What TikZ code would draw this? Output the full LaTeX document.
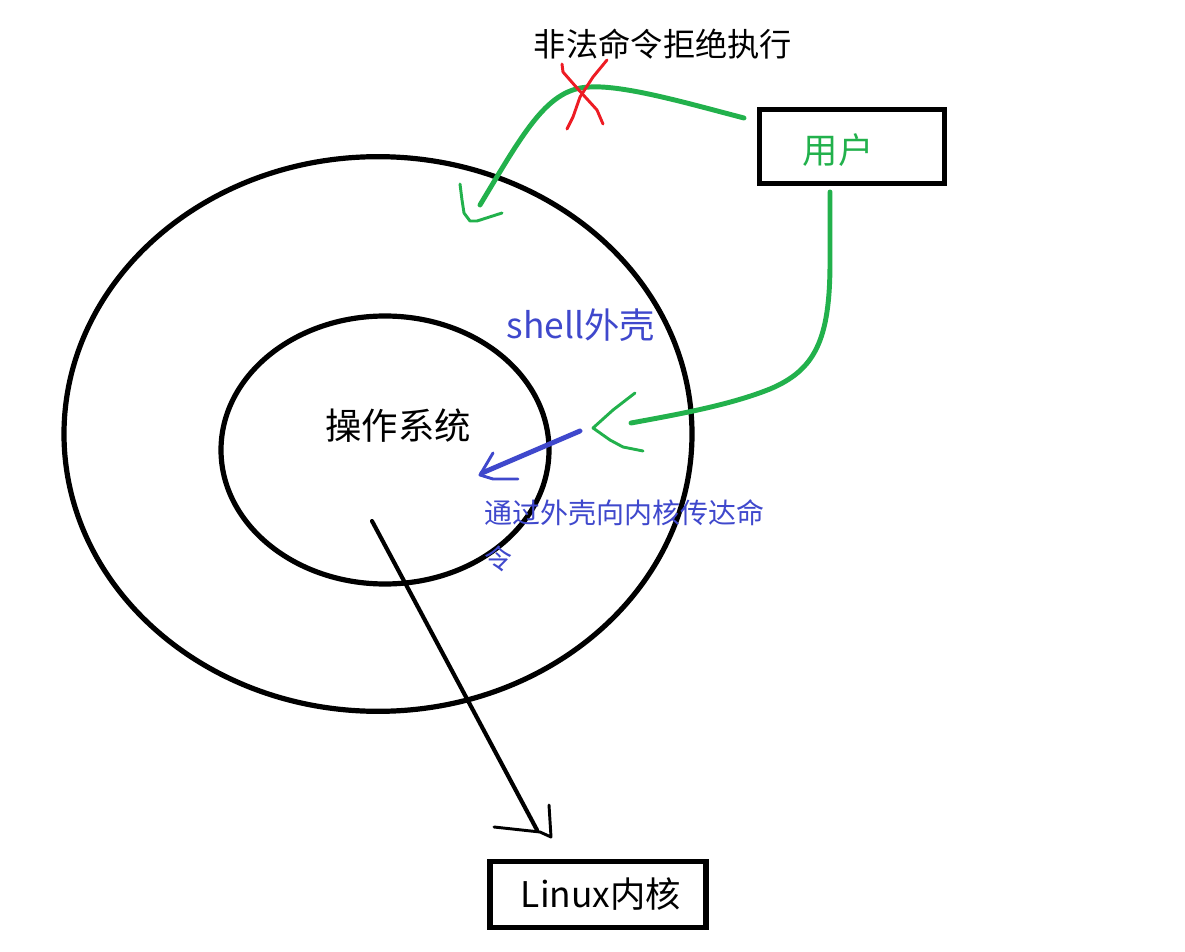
\documentclass[tikz,border=0pt]{standalone}
\usepackage{fontspec}
\usepackage{xcolor}
\usepackage{tikz}
\usetikzlibrary{shapes.geometric}
\setmainfont{Noto Sans CJK SC}
\definecolor{penGreen}{RGB}{34,177,76}
\definecolor{penBlue}{RGB}{63,72,204}
\definecolor{penRed}{RGB}{237,28,36}
\tikzset{
  ring/.style={draw=black, line width=3.9pt, ellipse, inner sep=0pt},
  box/.style={draw=black, line width=3.9pt, rectangle, inner sep=0pt},
  label/.style={inner sep=0pt, text=black},
  stroke/.style={line width=3.7pt, line cap=round, line join=round},
  pen/.style={line width=2.2pt, line cap=round, line join=round},
}

\begin{document}
\begin{tikzpicture}[x=0.75pt, y=-0.75pt]
\useasboundingbox (0, 0) rectangle (1185, 952);

% rings
\node[ring, minimum width=471pt, minimum height=416pt] (shell) at (378, 434) {};
\node[ring, minimum width=246pt, minimum height=201pt] (system) at (385, 450) {};

% boxes
\node[box, minimum width=139pt, minimum height=56pt] (user) at (852, 146.5) {};
\node[box, minimum width=162pt, minimum height=50pt] (kernel) at (598, 894.5) {};

% texts
\node[label, font=\fontsize{24.2}{28}\selectfont] (refuse) at (663, 44) {非法命令拒绝执行};
\node[label, text=penGreen, font=\fontsize{26.5}{30}\selectfont] (userText) at (838, 150) {用户};
\node[label, text=penBlue, font=\fontsize{26.5}{30}\selectfont] (shellText) at (581, 325) {shell外壳};
\node[label, font=\fontsize{27.3}{32}\selectfont] (systemText) at (398, 426) {操作系统};
\node[label, text=penBlue, font=\fontsize{21}{34.5}\selectfont, align=left, anchor=north west] (passText) at (484, 499) {通过外壳向内核传达命\\令};
\node[label, font=\fontsize{26.5}{30}\selectfont] (kernelText) at (601, 894) {Linux内核};

% free ends
\coordinate (refuseStart) at (744, 118);
\coordinate (refuseEnd) at (480, 205);
\coordinate (passStart) at (830, 192);
\coordinate (passEnd) at (631, 423);
\coordinate (cmdStart) at (580, 431);
\coordinate (cmdEnd) at (482, 473);
\coordinate (coreStart) at (372, 521);
\coordinate (coreEnd) at (537, 830);

% green curves
\draw[stroke, penGreen] (refuseStart) .. controls (690, 104) and (625, 85) .. (590, 87)
  .. controls (548, 88) and (525, 130) .. (refuseEnd);
\draw[stroke, penGreen] (passStart) -- (830, 262) .. controls (830, 340) and (815, 370) .. (770, 389)
  .. controls (730, 405) and (680, 414) .. (passEnd);

% hand drawn heads
\draw[pen, penGreen] (460, 184) -- (462, 200) -- (464, 213) -- (470, 221) -- (477, 221) -- (502, 213);
\draw[pen, penGreen] (635, 393) -- (613, 410) -- (593, 428) -- (610, 440) -- (623, 447) -- (643, 451);
\draw[pen, penBlue] (493, 453) -- (480, 475) -- (493, 479) -- (518, 479);
\draw[pen, black] (494, 827) -- (540, 832) -- (551, 837) -- (549, 805);

% other lines
\draw[stroke, penBlue] (cmdStart) -- (cmdEnd);
\draw[line width=3.1pt, line cap=round, black] (coreStart) -- (coreEnd);

% red cross
\draw[pen, penRed] (562, 64) -- (563, 72) -- (577, 88) -- (597, 110) -- (603, 124);
\draw[pen, penRed] (607, 60) -- (593, 77) -- (580, 97) -- (573, 117) -- (567, 129);
\end{tikzpicture}
\end{document}
